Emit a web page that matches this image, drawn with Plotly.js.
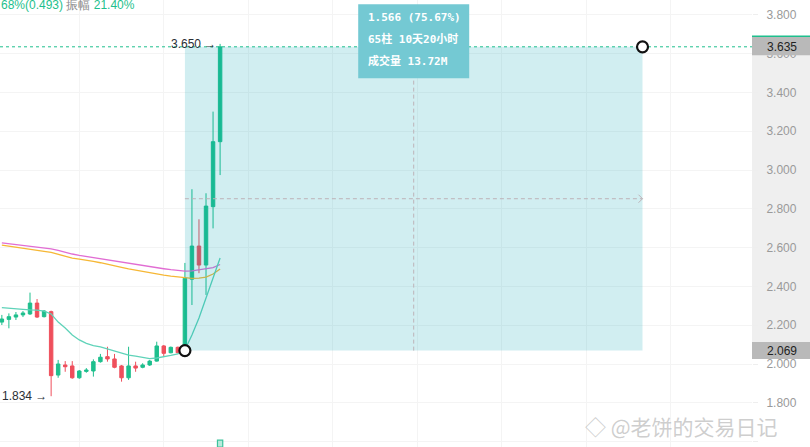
<!DOCTYPE html>
<html>
<head>
<meta charset="utf-8">
<script src="https://cdn.plot.ly/plotly-3.0.1.min.js"></script>
<style>html,body{margin:0;padding:0;background:#fff;}#chart{width:810px;height:447px;}</style>
</head>
<body>
<div id="chart"></div>
<script>
// ---- data (bar index on x) ----
const openP  = [2.216,2.230,2.242,2.253,2.258,2.314,2.244,2.270,1.943,1.995,1.990,1.929,1.962,1.964,2.012,2.038,2.026,1.990,1.929,1.990,1.983,1.995,2.015,2.093,2.058,2.086,2.069,2.437,2.608,2.510,2.811,3.146];
const highP  = [2.253,2.261,2.268,2.273,2.368,2.335,2.278,2.275,2.021,2.015,2.015,1.969,1.979,2.024,2.052,2.089,2.052,1.995,2.089,2.012,2.004,2.021,2.115,2.098,2.090,2.090,2.521,2.901,2.746,2.880,3.301,3.650];
const lowP   = [2.201,2.184,2.227,2.242,2.253,2.237,2.240,1.834,1.929,1.960,1.924,1.924,1.955,1.935,2.007,2.012,1.978,1.909,1.918,1.960,1.978,1.990,2.012,2.038,2.055,2.055,2.069,2.304,2.468,2.356,2.699,2.974];
const closeP = [2.232,2.244,2.253,2.263,2.314,2.242,2.273,1.940,2.000,1.986,1.929,1.964,1.969,2.012,2.035,2.026,1.983,1.929,1.990,1.979,1.995,2.015,2.093,2.055,2.086,2.058,2.442,2.608,2.510,2.814,3.146,3.635];
const maShort = [2.291,2.289,2.285,2.282,2.279,2.278,2.273,2.258,2.216,2.186,2.150,2.124,2.106,2.095,2.088,2.077,2.067,2.057,2.046,2.041,2.034,2.028,2.031,2.036,2.044,2.052,2.072,2.149,2.237,2.340,2.443,2.546];
const maPink  = [2.624,2.620,2.616,2.611,2.607,2.602,2.598,2.594,2.586,2.576,2.567,2.560,2.554,2.550,2.545,2.539,2.532,2.525,2.518,2.512,2.506,2.500,2.496,2.491,2.486,2.482,2.479,2.480,2.485,2.490,2.497,2.513];
const maOrange= [2.613,2.607,2.601,2.595,2.590,2.585,2.580,2.575,2.566,2.556,2.546,2.541,2.536,2.529,2.522,2.515,2.507,2.498,2.490,2.483,2.476,2.469,2.463,2.458,2.453,2.448,2.443,2.441,2.443,2.448,2.464,2.490];
const volIdx = [31];
const volVal = [4.4];
const yTicks = [1.6,1.8,2.0,2.2,2.4,2.6,2.8,3.0,3.2,3.4,3.6,3.8];
const xGrid = [11,23,35,47,59,71,83,95];
// measurement range
const rangeStartIdx = 26, rangeEndIdx = 91;
const rangeStartPrice = 2.069, rangeEndPrice = 3.635;
const highLabel = {i: 31, v: 3.650, text: '3.650 →'};
const lowLabel  = {i: 7,  v: 1.834, text: '1.834 →'};
const tipLines = ['1.566 (75.67%)', '65柱 10天20小时', '成交量 13.72M'];
const headerText = '68%(0.493)';
const headerAmp = '21.40%';

const idx = openP.map((_, i) => i);
const GREEN = '#1ebf8d', RED = '#ef4f5c';
const FONT = 'Liberation Sans, Arial, sans-serif';

const traces = [
  {type:'scatter', mode:'lines', x: idx, y: maOrange, line:{color:'#f6b735', width:1.3}, hoverinfo:'skip'},
  {type:'scatter', mode:'lines', x: idx, y: maPink, line:{color:'#e16dd3', width:1.3}, hoverinfo:'skip'},
  {type:'scatter', mode:'lines', x: idx, y: maShort, line:{color:'#5fd3b9', width:1.3}, hoverinfo:'skip'},
  {type:'candlestick', x: idx, open: openP, high: highP, low: lowP, close: closeP,
   increasing:{line:{color:GREEN, width:1}, fillcolor:GREEN},
   decreasing:{line:{color:RED, width:1}, fillcolor:RED},
   whiskerwidth:0, hoverinfo:'skip'},
  {type:'bar', x: volIdx, y: volVal, yaxis:'y2', width:0.75,
   marker:{color:'#b8ebdc', line:{color:'#3cc39c', width:1.2}}, hoverinfo:'skip'}
];

const midIdx = (rangeStartIdx + rangeEndIdx) / 2;
const midPrice = (rangeStartPrice + rangeEndPrice) / 2;

const shapes = [
  {type:'rect', xref:'paper', x0:1, x1:1.08, yref:'y', y0:rangeStartPrice, y1:rangeEndPrice,
   fillcolor:'#efefef', line:{width:0}, layer:'below'},
  {type:'rect', xref:'x', x0:rangeStartIdx, x1:rangeEndIdx, yref:'y', y0:rangeStartPrice, y1:rangeEndPrice,
   fillcolor:'rgba(0,160,175,0.18)', line:{width:0}, layer:'above'},
  {type:'line', xref:'paper', x0:0, x1:1, yref:'y', y0:rangeEndPrice, y1:rangeEndPrice,
   line:{color:GREEN, width:1, dash:'3px,3px'}, layer:'above'},
  {type:'line', xref:'x', x0:midIdx, x1:midIdx, yref:'y', y0:rangeStartPrice, y1:rangeEndPrice,
   line:{color:'#bdb3b8', width:1, dash:'4px,3px'}, layer:'above'},
  {type:'line', xref:'x', x0:rangeStartIdx, x1:rangeEndIdx, yref:'y', y0:midPrice, y1:midPrice,
   line:{color:'#bdb3b8', width:1, dash:'4px,3px'}, layer:'above'},
  {type:'path', xref:'x', xsizemode:'pixel', xanchor:rangeEndIdx, yref:'y', ysizemode:'pixel', yanchor:midPrice,
   path:'M-4,-4 L0,0 L-4,4', line:{color:'#bdb3b8', width:1}, layer:'above'},
  {type:'rect', xref:'x', xsizemode:'pixel', xanchor:midIdx, x0:-55.5, x1:55.5,
   yref:'y', ysizemode:'pixel', yanchor:rangeEndPrice, y0:-31.5, y1:42.5,
   fillcolor:'#74c9d3', line:{width:0}, layer:'above'},
  {type:'rect', xref:'paper', x0:1, x1:1.08, yref:'y', ysizemode:'pixel', yanchor:rangeEndPrice, y0:-8.5, y1:10.5,
   fillcolor:'#b9b9b9', line:{width:0}, layer:'above'},
  {type:'line', xref:'paper', x0:1, x1:1.08, yref:'y', ysizemode:'pixel', yanchor:rangeEndPrice, y0:10.5, y1:10.5,
   line:{color:GREEN, width:1.5}, layer:'above'},
  {type:'rect', xref:'paper', x0:1, x1:1.08, yref:'y', ysizemode:'pixel', yanchor:rangeStartPrice, y0:-8.5, y1:8.5,
   fillcolor:'#b9b9b9', line:{width:0}, layer:'above'},
  {type:'circle', xref:'x', xsizemode:'pixel', xanchor:rangeStartIdx, x0:-5.5, x1:5.5,
   yref:'y', ysizemode:'pixel', yanchor:rangeStartPrice, y0:-5.5, y1:5.5,
   fillcolor:'#ffffff', line:{color:'#111', width:2.2}, layer:'above'},
  {type:'circle', xref:'x', xsizemode:'pixel', xanchor:rangeEndIdx, x0:-5.5, x1:5.5,
   yref:'y', ysizemode:'pixel', yanchor:rangeEndPrice, y0:-5.5, y1:5.5,
   fillcolor:'#ffffff', line:{color:'#111', width:2.2}, layer:'above'}
];

const tipFont = {family:'DejaVu Sans Mono, Noto Sans CJK SC, monospace', size:11, color:'#ffffff', weight:'bold'};
const annotations = [
  {xref:'paper', yref:'paper', x:0, y:1, xanchor:'left', yanchor:'middle', xshift:-1, yshift:-5, showarrow:false,
   text:'<span style="color:#1ebf8d">'+headerText+'</span> <span style="color:#8c8c8c">振幅</span> <span style="color:#1ebf8d">'+headerAmp+'</span>',
   font:{family:FONT, size:12}},
  {xref:'x', yref:'y', x:highLabel.i, y:highLabel.v, xanchor:'right', yanchor:'middle', xshift:-2, showarrow:false,
   text:highLabel.text, font:{family:FONT, size:12, color:'#2b2f36'}},
  {xref:'x', yref:'y', x:lowLabel.i, y:lowLabel.v, xanchor:'right', yanchor:'middle', xshift:-2, showarrow:false,
   text:lowLabel.text, font:{family:FONT, size:12, color:'#2b2f36'}},
  {xref:'x', yref:'y', x:midIdx, y:rangeEndPrice, xanchor:'left', yanchor:'middle', xshift:-48, yshift:29.5, showarrow:false,
   text:tipLines[0], font:tipFont},
  {xref:'x', yref:'y', x:midIdx, y:rangeEndPrice, xanchor:'left', yanchor:'middle', xshift:-48, yshift:7.5, showarrow:false,
   text:tipLines[1], font:tipFont},
  {xref:'x', yref:'y', x:midIdx, y:rangeEndPrice, xanchor:'left', yanchor:'middle', xshift:-48, yshift:-14.5, showarrow:false,
   text:tipLines[2], font:tipFont},
  {xref:'paper', yref:'y', x:1.04, y:rangeEndPrice, xanchor:'center', yanchor:'middle', showarrow:false,
   text:rangeEndPrice.toFixed(3), font:{family:FONT, size:12, color:'#222'}},
  {xref:'paper', yref:'y', x:1.04, y:rangeStartPrice, xanchor:'center', yanchor:'middle', showarrow:false,
   text:rangeStartPrice.toFixed(3), font:{family:FONT, size:12, color:'#222'}},
  {xref:'paper', yref:'paper', x:1.037, y:0, xanchor:'right', yanchor:'bottom', yshift:4, showarrow:false,
   text:'◇ @老饼的交易日记', font:{family:'Noto Sans CJK SC, sans-serif', size:21, color:'rgba(190,190,190,0.75)'}}
];

const layout = {
  width:810, height:447,
  margin:{l:0, r:58, t:0, b:0, pad:0},
  paper_bgcolor:'#ffffff', plot_bgcolor:'#ffffff',
  showlegend:false, hovermode:false, dragmode:false,
  bargap:0,
  xaxis:{range:[-0.263, 106.55], showticklabels:false, tickvals:xGrid, showgrid:true, gridcolor:'#f4f4f4',
         zeroline:false, showline:false, ticks:'', rangeslider:{visible:false}, fixedrange:true},
  yaxis:{side:'right', range:[1.5722, 3.8763], tickvals:yTicks, ticktext:yTicks.map(v=>v.toFixed(3)),
         showgrid:true, gridcolor:'#f4f4f4', zeroline:false, showline:false,
         ticks:'outside', ticklen:5, tickcolor:'#eeeeee', ticklabelstandoff:6,
         tickfont:{family:FONT, size:12, color:'#9a9a9a'}, fixedrange:true},
  yaxis2:{overlaying:'y', range:[0, 290], visible:false, fixedrange:true},
  shapes: shapes,
  annotations: annotations
};

Plotly.newPlot('chart', traces, layout, {displayModeBar:false, staticPlot:true});
</script>
</body>
</html>
